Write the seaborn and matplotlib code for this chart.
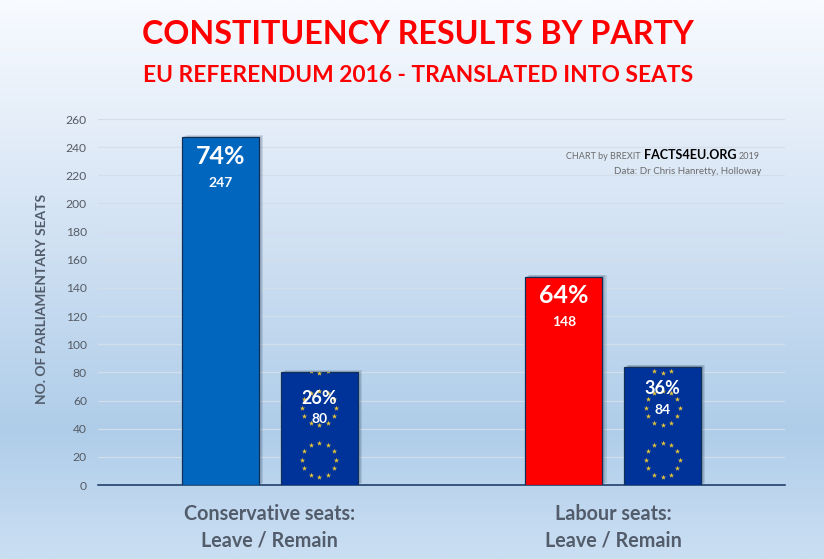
import numpy as np
import pandas as pd
import matplotlib
matplotlib.use("Agg")
import matplotlib.pyplot as plt
import matplotlib.patheffects as pe
from matplotlib.colors import LinearSegmentedColormap
import seaborn as sns

# Seats per party and referendum side
parties = ["Conservative seats:\nLeave / Remain", "Labour seats:\nLeave / Remain"]
sides = ["Leave", "Remain"]
leave_seats = [247, 148]
remain_seats = [80, 84]
leave_share = ["74%", "64%"]
remain_share = ["26%", "36%"]
y_ticks = list(range(0, 261, 20))

sns.set_theme(style="white")
plt.rcParams["font.family"] = ["Lato", "DejaVu Sans"]

W, H = 824, 559
fig = plt.figure(figsize=(W / 100, H / 100), dpi=100)

# Page background: pale at the top, deepest near the axis, lighter again at the foot
bg = fig.add_axes([0, 0, 1, 1], zorder=0)
cmap = LinearSegmentedColormap.from_list(
    "page", [(0, "#F8FBFF"), (0.25, "#E2ECF8"), (0.77, "#AFCDE9"), (1, "#CBDFF3")])
bg.imshow(np.linspace(0, 1, 256)[:, None], aspect="auto", cmap=cmap, extent=(0, 1, 0, 1))
bg.axis("off")

ax = fig.add_axes([98 / W, 1 - 485 / H, 687 / W, 366 / H], zorder=1)
ax.patch.set_alpha(0)

frame = pd.DataFrame({
    "party": parties * 2,
    "side": [sides[0]] * 2 + [sides[1]] * 2,
    "seats": leave_seats + remain_seats,
})
sns.barplot(data=frame, x="party", y="seats", hue="side", order=parties, hue_order=sides,
            width=0.576, gap=0.22, dodge=True, legend=False, errorbar=None, ax=ax, zorder=3,
            saturation=1, palette={"Leave": "#0066BE", "Remain": "#003399"})

ax.set_xlim(-0.5, 1.5)
ax.set_ylim(0, 260)
ax.set_yticks(y_ticks)
ax.grid(axis="y", color="#D2DEEA", linewidth=0.9, zorder=0)
ax.grid(axis="x", visible=False)
ax.set_axisbelow(True)
for name in ("top", "left", "right"):
    ax.spines[name].set_visible(False)
ax.spines["bottom"].set_color("#14345F")
ax.spines["bottom"].set_linewidth(1.1)
ax.tick_params(axis="y", length=0, labelsize=8.7, labelcolor="#565B64", pad=8)
ax.tick_params(axis="x", length=0, labelsize=14.2, labelcolor="#525C6B", pad=14)
for lab in ax.get_xticklabels():
    lab.set_fontweight("bold")
    lab.set_linespacing(1.38)
ax.set_xlabel("")
ax.set_ylabel("")

leave_bars = ax.containers[0]
remain_bars = ax.containers[1]
leave_bars[1].set_facecolor("#FF0000")

# Soft drop shadow built up from a few faint offset copies
shadow = [pe.SimplePatchShadow(offset=(o, o / 2), shadow_rgbFace="#22344E", alpha=0.13)
          for o in (3, 2, 1)] + [pe.Normal()]
for bar in list(leave_bars) + list(remain_bars):
    bar.set_edgecolor("#10305A")
    bar.set_linewidth(0.9)
    bar.set_path_effects(shadow)

# Rings of gold stars repeated up each Remain bar, cut off at the bar top
ring_angles = np.deg2rad(np.arange(0, 360, 30))
for bar in remain_bars:
    cx = bar.get_x() + bar.get_width() / 2
    for cy in (17.8, 54.8, 91.8):
        stars = ax.scatter(cx + 0.0495 * np.cos(ring_angles), cy + 12.1 * np.sin(ring_angles),
                           marker="*", s=16, color="#E5C33A", linewidths=0, zorder=4)
        stars.set_clip_path(bar)

# Share and seat count inside each bar
def label_bar(bar, share, share_size, share_drop, count_drop):
    x = bar.get_x() + bar.get_width() / 2
    y = bar.get_height()
    ax.annotate(share, (x, y), xytext=(0, -share_drop), textcoords="offset pixels", ha="center",
                va="center", color="white", fontweight="bold", fontsize=share_size, zorder=5)
    ax.annotate(str(int(y)), (x, y), xytext=(0, -count_drop), textcoords="offset pixels", ha="center",
                va="center", color="white", fontweight="bold", fontsize=10, zorder=5)

label_bar(leave_bars[0], leave_share[0], 18, 19, 46)
label_bar(leave_bars[1], leave_share[1], 18, 19, 45)
label_bar(remain_bars[0], remain_share[0], 13, 26, 47)
label_bar(remain_bars[1], remain_share[1], 13, 22, 43)

# Headings, axis title and credits
def page_text(px, py, s, **kw):
    fig.text(px / W, 1 - py / H, s, zorder=6, **kw)

page_text(418, 35, "CONSTITUENCY RESULTS BY PARTY", ha="center", va="center", color="#FF0000",
          fontsize=23.2, fontweight="bold")
page_text(418, 76, "EU REFERENDUM 2016 - TRANSLATED INTO SEATS", ha="center", va="center", color="#FF0000",
          fontsize=16.4, fontweight="bold")
page_text(42, 299, "NO. OF PARLIAMENTARY SEATS", ha="center", va="center", rotation=90, color="#525C6B",
          fontsize=9.9, fontweight="bold")
page_text(641, 156, "CHART by BREXIT", ha="right", va="center", color="#6B6B6B", fontsize=6.5)
page_text(644, 155, "FACTS4EU.ORG", ha="left", va="center", color="black", fontsize=9, fontweight="bold")
page_text(739, 156, "2019", ha="left", va="center", color="#6B6B6B", fontsize=6.5)
page_text(761, 171, "Data: Dr Chris Hanretty, Holloway", ha="right", va="center", color="#6B6B6B", fontsize=7)

fig.savefig("out.png", dpi=100)
